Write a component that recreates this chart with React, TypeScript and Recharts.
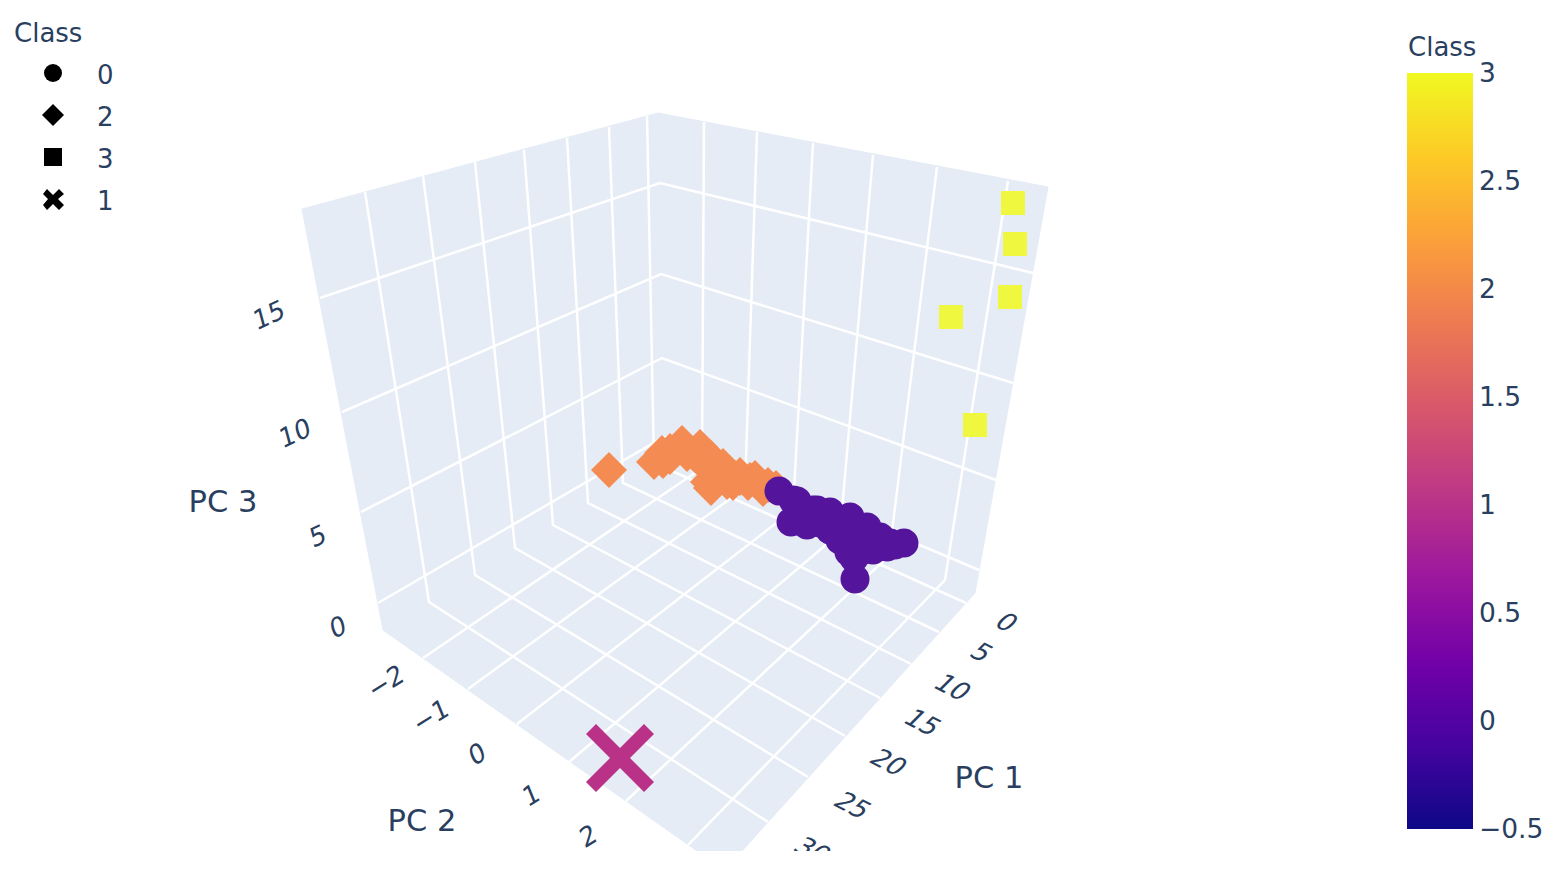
import { Bar, BarChart, Scatter, ScatterChart, XAxis, YAxis } from 'recharts';

// The chart is a 3D plotly-style scene, so everything is held as projected (x, y) on the picture plane.
type Pair = [number, number];

const FONT = '"DejaVu Sans", Verdana, sans-serif';
const INK = '#2a3f5f';
const WALL = '#e5ecf6';

const leftWall: Pair[] = [[302, 209], [658, 113], [668, 453], [383, 630]];
const rightWall: Pair[] = [[658, 113], [1048, 187], [975, 593], [668, 453]];
const floor: Pair[] = [[383, 630], [668, 453], [975, 593], [742, 851], [697, 851]];

const pc1Grid: Pair[][] = [
  [[966, 603], [654, 463], [647, 116]],
  [[939, 632], [623, 483], [609, 127]],
  [[911, 664], [588, 503], [567, 138]],
  [[880, 698], [553, 525], [524, 150]],
  [[845, 736], [515, 548], [475, 162]],
  [[808, 777], [475, 575], [423, 176]],
  [[768, 822], [429, 602], [365, 192]],
];
const pc2Grid: Pair[][] = [
  [[423, 658], [702, 468], [704, 122]],
  [[468, 689], [745, 488], [757, 132]],
  [[517, 724], [793, 510], [813, 143]],
  [[569, 762], [840, 533], [873, 155]],
  [[626, 801], [889, 556], [937, 167]],
  [[688, 845], [945, 580], [1008, 181]],
];
const pc3Grid: Pair[][] = [
  [[320, 298], [660, 183], [1033, 273]],
  [[342, 412], [661, 274], [1013, 383]],
  [[361, 512], [662, 358], [996, 480]],
  [[378, 603], [664, 437], [979, 570]],
];

const class2Points: Pair[] = [
  [609, 470], [654, 462], [663, 461], [662, 453], [670, 451], [670, 457], [682, 443], [687, 454], [695, 455], [700, 447],
  [705, 465], [710, 457], [715, 475], [723, 466], [725, 475], [708, 482], [711, 488], [727, 482], [735, 478], [740, 475],
  [740, 478], [750, 480], [755, 478], [758, 483], [763, 489], [768, 485], [776, 488], [720, 473], [733, 483], [748, 483],
];
const class0Points: Pair[] = [
  [855, 579], [779, 491], [904, 543], [791, 522], [807, 525], [793, 500], [797, 501], [813, 510], [817, 510], [830, 512],
  [850, 517], [850, 519], [830, 530], [800, 515], [849, 552], [877, 538], [880, 537], [863, 550], [870, 549], [873, 550],
  [887, 547], [890, 543], [860, 530], [867, 527], [870, 537], [843, 530], [820, 523], [840, 540], [855, 540], [865, 540],
  [895, 545], [854, 558],
];
const class3Points: Pair[] = [[1013, 203], [1015, 244], [1010, 297], [951, 317], [975, 425]];
const class1Points: Pair[] = [[620, 758]];

const pc1Ticks = ['0', '5', '10', '15', '20', '25', '30'];
const pc1TickSpots: Pair[] = [[1007, 622], [982, 652], [953, 687], [923, 722], [889, 762], [853, 805], [813, 850]];
const pc2Ticks = ['\u22122', '\u22121', '0', '1', '2'];
const pc2TickSpots: Pair[] = [[386, 682], [431, 716], [477, 754], [531, 795], [588, 836]];
const pc3Ticks = ['0', '5', '10', '15'];
const pc3TickSpots: Pair[] = [[338, 627], [318, 536], [295, 433], [269, 315]];
const axisTitles = ['PC 1', 'PC 2', 'PC 3'];
const axisTitleSpots: Pair[] = [[989, 777], [422, 820], [223, 501]];

const legendLabels = ['0', '2', '3', '1'];
const colorbarTicks = [-0.5, 0, 0.5, 1, 1.5, 2, 2.5, 3];
const colorbarRange = [{ name: 'Class', range: [-0.5, 3] }];
const plasma = ['#0d0887', '#46039f', '#7201a8', '#9c179e', '#bd3786', '#d8576b', '#ed7953', '#fb9f3a', '#fdca26', '#f0f921'];

const toPoints = (pairs: Pair[]) => pairs.map(([x, y]) => ({ x, y }));
const toLabels = (texts: string[], spots: Pair[]) => spots.map(([x, y], i) => ({ x, y, text: texts[i] }));

const nothing = () => null;

// stroke in the wall colour closes the antialiased seam between neighbouring panes
const wallShape = (fill: string) => (props: any) => (
  <polygon points={props.points.map((p: any) => `${p.x},${p.y}`).join(' ')} fill={fill} stroke={fill} strokeWidth={1} />
);

const Dot = ({ cx, cy }: any) => <circle cx={cx} cy={cy} r={14.5} fill="#54149c" />;
const Diamond = ({ cx, cy }: any) => (
  <polygon points={`${cx},${cy - 18} ${cx + 18},${cy} ${cx},${cy + 18} ${cx - 18},${cy}`} fill="#f48b53" />
);
const Square = ({ cx, cy }: any) => <rect x={cx - 12} y={cy - 12} width={24} height={24} fill="#eff73e" />;
const Cross = ({ cx, cy }: any) => (
  <path
    d={`M${cx - 24},${cy - 34} L${cx},${cy - 10} L${cx + 24},${cy - 34} L${cx + 34},${cy - 24} L${cx + 10},${cy} L${cx + 34},${cy + 24} L${cx + 24},${cy + 34} L${cx},${cy + 10} L${cx - 24},${cy + 34} L${cx - 34},${cy + 24} L${cx - 10},${cy} L${cx - 34},${cy - 24} Z`}
    fill="#b93287"
  />
);

const tickText = (transform: string, size = 26) => ({ cx, cy, payload }: any) => (
  <text
    transform={`translate(${cx},${cy}) ${transform}`}
    textAnchor="middle"
    dominantBaseline="central"
    fontFamily={FONT}
    fontSize={size}
    fill={INK}
  >
    {payload.text}
  </text>
);

function LegendBox() {
  const rows = [73, 115, 157, 199];
  return (
    <svg width={200} height={230} style={{ position: 'absolute', left: 0, top: 0 }} fontFamily={FONT} fontSize={26} fill={INK}>
      <text x={14} y={42}>Class</text>
      {legendLabels.map((label, i) => (
        <text key={label} x={97} y={rows[i] + 11}>{label}</text>
      ))}
      <circle cx={53} cy={73} r={9} fill="#000" />
      <polygon points="53,104 64,115 53,126 42,115" fill="#000" />
      <rect x={44} y={148} width={18} height={18} fill="#000" />
      <path d="M47,189 L53,195 L59,189 L64,194 L58,199 L64,205 L59,210 L53,204 L47,210 L43,205 L48,199 L43,194 Z" fill="#000" />
    </svg>
  );
}

function Colorbar() {
  return (
    <div style={{ position: 'absolute', left: 1407, top: 0, width: 147, height: 884 }}>
      <div style={{ position: 'absolute', left: 1, top: 31, fontFamily: FONT, fontSize: 26, lineHeight: '32px', color: INK }}>Class</div>
      <BarChart
        width={147}
        height={884}
        data={colorbarRange}
        margin={{ top: 73, bottom: 55, left: 0, right: 0 }}
        barCategoryGap={0}
      >
        <defs>
          <linearGradient id="plasmaFill" x1="0" y1="1" x2="0" y2="0">
            {plasma.map((color, i) => (
              <stop key={color} offset={i / (plasma.length - 1)} stopColor={color} />
            ))}
          </linearGradient>
        </defs>
        <XAxis dataKey="name" hide />
        <YAxis
          orientation="right"
          width={81}
          domain={[-0.5, 3]}
          ticks={colorbarTicks}
          interval={0}
          tickLine={false}
          axisLine={false}
          tickSize={0}
          tickMargin={6}
          tickFormatter={(v: number) => String(v).replace('-', '\u2212')}
          tick={{ fontFamily: FONT, fontSize: 26.5, fill: INK }}
        />
        <Bar dataKey="range" fill="url(#plasmaFill)" isAnimationActive={false} />
      </BarChart>
    </div>
  );
}

export default function App() {
  return (
    <div style={{ position: 'absolute', left: 0, top: 0, width: 1554, height: 884, background: '#fff', overflow: 'hidden' }}>
      <ScatterChart width={1554} height={851} margin={{ top: 0, right: 0, bottom: 0, left: 0 }}>
        <XAxis type="number" dataKey="x" domain={[0, 1554]} hide />
        <YAxis type="number" dataKey="y" domain={[0, 851]} reversed hide />

        <Scatter data={toPoints(leftWall)} line={wallShape(WALL)} shape={nothing} isAnimationActive={false} />
        <Scatter data={toPoints(rightWall)} line={wallShape(WALL)} shape={nothing} isAnimationActive={false} />
        <Scatter data={toPoints(floor)} line={wallShape(WALL)} shape={nothing} isAnimationActive={false} />

        {[...pc1Grid, ...pc2Grid, ...pc3Grid].map((grid, i) => (
          <Scatter
            key={i}
            data={toPoints(grid)}
            line={{ stroke: '#fff', strokeWidth: 2.5 }}
            shape={nothing}
            isAnimationActive={false}
          />
        ))}

        <Scatter data={toPoints(class2Points)} shape={Diamond} isAnimationActive={false} />
        <Scatter data={toPoints(class0Points)} shape={Dot} isAnimationActive={false} />
        <Scatter data={toPoints(class3Points)} shape={Square} isAnimationActive={false} />
        <Scatter data={toPoints(class1Points)} shape={Cross} isAnimationActive={false} />

        <Scatter data={toLabels(pc1Ticks, pc1TickSpots)} shape={tickText('rotate(27) skewX(-18)')} isAnimationActive={false} />
        <Scatter data={toLabels(pc2Ticks, pc2TickSpots)} shape={tickText('rotate(-32) skewX(-10)')} isAnimationActive={false} />
        <Scatter data={toLabels(pc3Ticks, pc3TickSpots)} shape={tickText('rotate(-25) skewX(-10)')} isAnimationActive={false} />
        <Scatter data={toLabels(axisTitles, axisTitleSpots)} shape={tickText('', 30.5)} isAnimationActive={false} />
      </ScatterChart>
      <LegendBox />
      <Colorbar />
    </div>
  );
}
